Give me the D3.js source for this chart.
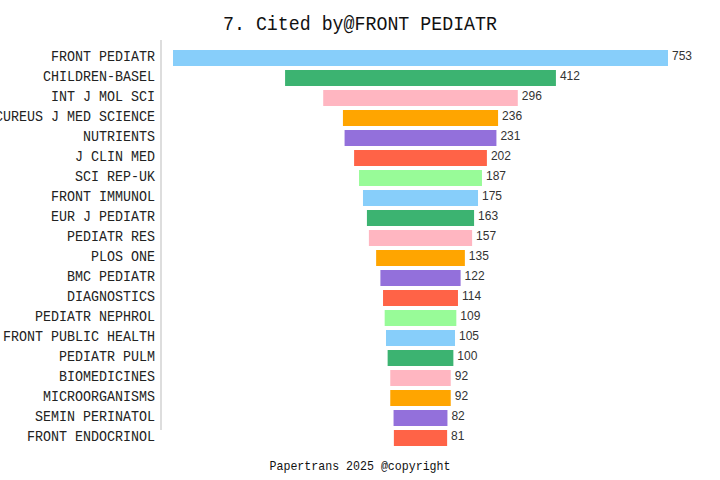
<!DOCTYPE html>
<html>
<head>
<meta charset="utf-8">
<script src="https://cdn.jsdelivr.net/npm/d3@7"></script>
<style>
  body { margin: 0; background: #fff; }
  svg { display: block; }
</style>
</head>
<body>
<div id="chart"></div>
<script>
// Data
const journals = [
  'FRONT PEDIATR', 'CHILDREN-BASEL', 'INT J MOL SCI', 'CUREUS J MED SCIENCE',
  'NUTRIENTS', 'J CLIN MED', 'SCI REP-UK', 'FRONT IMMUNOL', 'EUR J PEDIATR',
  'PEDIATR RES', 'PLOS ONE', 'BMC PEDIATR', 'DIAGNOSTICS', 'PEDIATR NEPHROL',
  'FRONT PUBLIC HEALTH', 'PEDIATR PULM', 'BIOMEDICINES', 'MICROORGANISMS',
  'SEMIN PERINATOL', 'FRONT ENDOCRINOL'
];
const counts = [753, 412, 296, 236, 231, 202, 187, 175, 163, 157, 135, 122, 114, 109, 105, 100, 92, 92, 82, 81];
const palette = ['#87CEFA', '#3CB371', '#FFB6C1', '#FFA500', '#9370DB', '#FF6347', '#98FB98'];

const width = 720, height = 480;
const CHAR_W = 8; // monospace label width per char

const svg = d3.select('#chart').append('svg')
  .attr('width', width)
  .attr('height', height);

// Scales
const y = d3.scaleBand()
  .domain(journals)
  .range([48, 448])
  .paddingInner(0.2)
  .paddingOuter(0.1);

const x = d3.scaleLinear()
  .domain([0, d3.max(counts)])
  .range([0, 495]);

const centerX = 420.5;

// Axis line
svg.append('line')
  .attr('x1', 161).attr('x2', 161)
  .attr('y1', 40).attr('y2', 430)
  .attr('stroke', '#ddd')
  .attr('stroke-width', 2);

// Bars
const rows = journals.map((j, i) => ({ name: j, value: counts[i], i }));

svg.selectAll('rect.bar')
  .data(rows)
  .join('rect')
  .attr('class', 'bar')
  .attr('x', (d) => centerX - x(d.value) / 2)
  .attr('y', (d) => y(d.name))
  .attr('width', (d) => x(d.value))
  .attr('height', y.bandwidth())
  .attr('fill', (d) => palette[d.i % palette.length]);

// Value labels
svg.selectAll('text.val')
  .data(rows)
  .join('text')
  .attr('class', 'val')
  .attr('x', (d) => centerX + x(d.value) / 2 + 4)
  .attr('y', (d) => y(d.name) + y.bandwidth() / 2)
  .attr('dy', '0.18em')
  .attr('font-family', 'Liberation Sans, Arial, sans-serif')
  .attr('font-size', 12)
  .attr('fill', '#333')
  .text((d) => d.value);

// Category labels
svg.selectAll('text.cat')
  .data(rows)
  .join('text')
  .attr('class', 'cat')
  .attr('x', 155)
  .attr('y', (d) => y(d.name) + y.bandwidth() / 2)
  .attr('dy', '0.22em')
  .attr('text-anchor', 'end')
  .attr('font-family', 'Liberation Mono, DejaVu Sans Mono, monospace')
  .attr('font-size', 15)
  .attr('fill', '#222')
  .attr('textLength', (d) => d.name.length * CHAR_W)
  .attr('lengthAdjust', 'spacingAndGlyphs')
  .text((d) => d.name);

// Title
svg.append('text')
  .attr('x', 360)
  .attr('y', 30)
  .attr('text-anchor', 'middle')
  .attr('font-family', 'Liberation Mono, DejaVu Sans Mono, monospace')
  .attr('font-size', 21)
  .attr('fill', '#111')
  .attr('textLength', 274)
  .attr('lengthAdjust', 'spacingAndGlyphs')
  .text('7. Cited by@FRONT PEDIATR');

// Footer
svg.append('text')
  .attr('x', 360)
  .attr('y', 470)
  .attr('text-anchor', 'middle')
  .attr('font-family', 'Liberation Mono, DejaVu Sans Mono, monospace')
  .attr('font-size', 13)
  .attr('fill', '#111')
  .attr('textLength', 181)
  .attr('lengthAdjust', 'spacingAndGlyphs')
  .text('Papertrans 2025 @copyright');
</script>
</body>
</html>
